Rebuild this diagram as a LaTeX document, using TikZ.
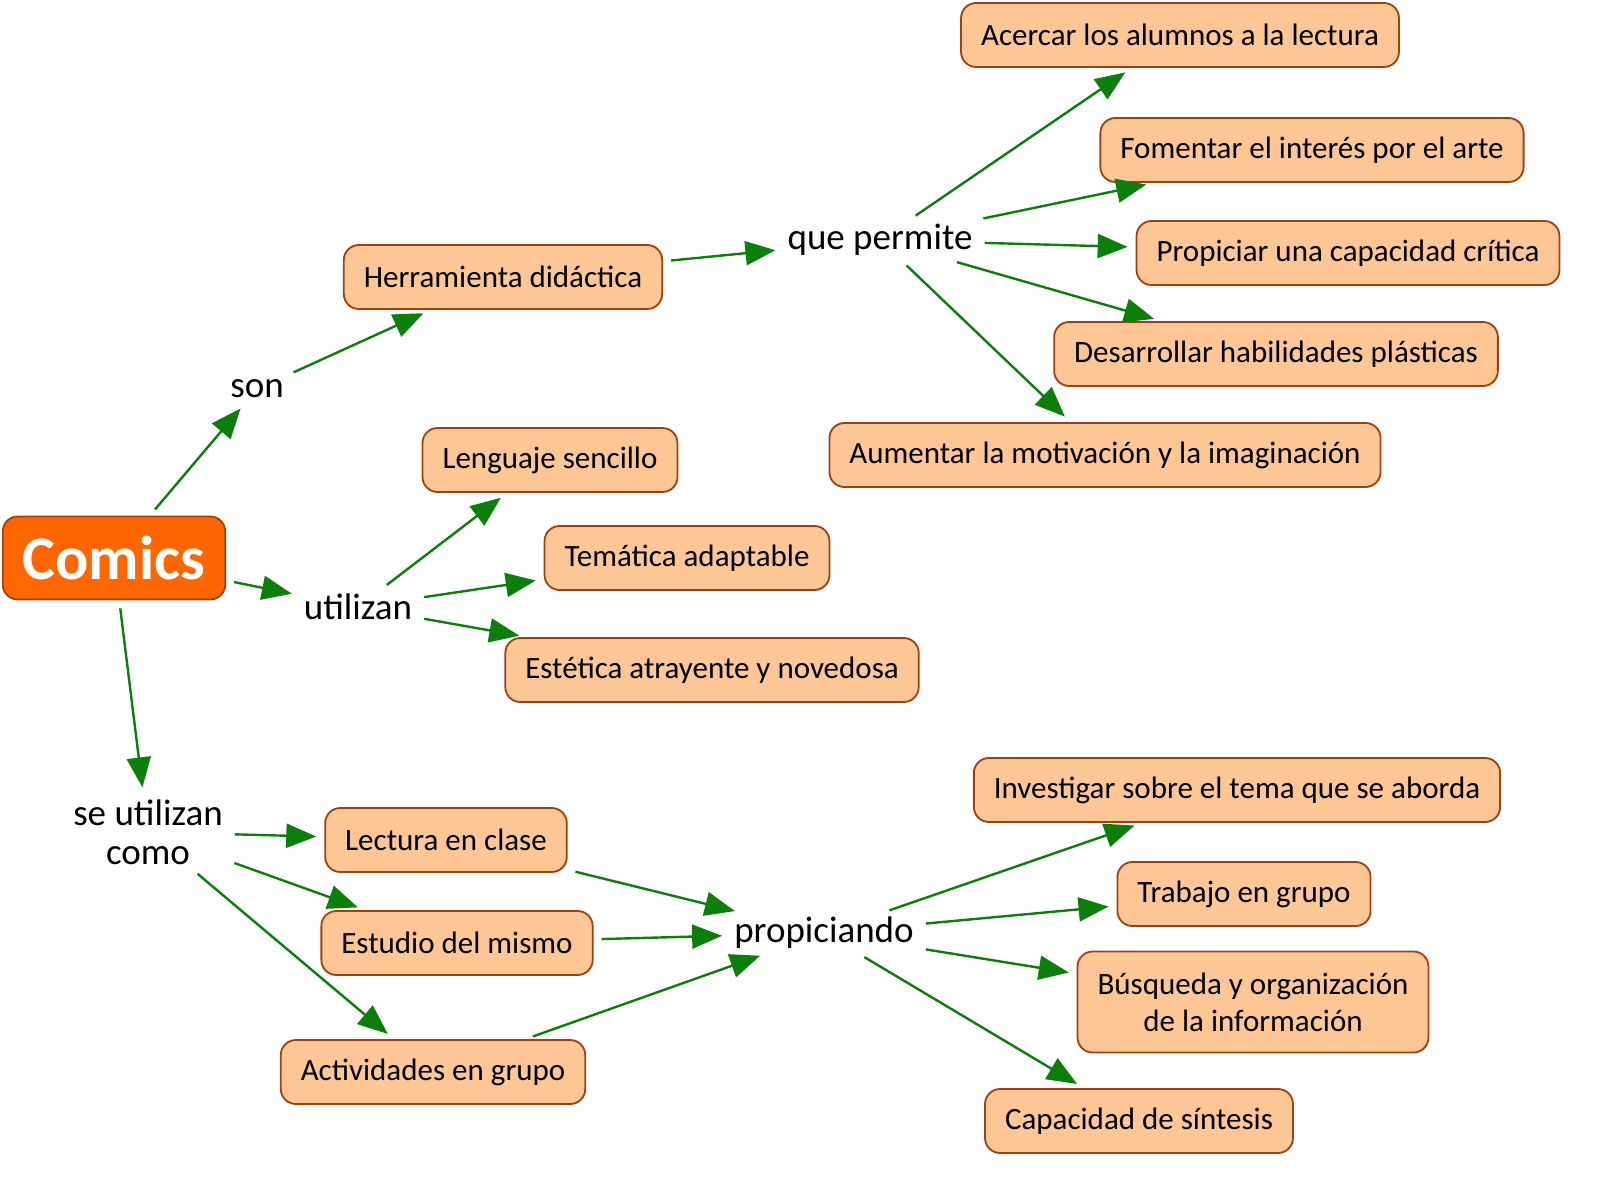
\documentclass[tikz,border=0pt]{standalone}
\usepackage{fontspec}
\setmainfont{Carlito}
\usetikzlibrary{arrows.meta}
\definecolor{peach}{HTML}{FCC794}
\definecolor{boxline}{HTML}{A0400F}
\definecolor{orangebox}{HTML}{FF6600}
\definecolor{linkgreen}{HTML}{0A800A}
\begin{document}
\begin{tikzpicture}[x=1pt,y=-1pt,
    concept/.style={draw=boxline,line width=1.8pt,fill=peach,rounded corners=15pt,
        inner xsep=20pt,inner ysep=0pt,minimum height=64pt,align=center,
        font=\fontsize{31}{37}\selectfont},
    linkword/.style={inner sep=4pt,align=center,font=\fontsize{37}{39}\selectfont},
    link/.style={draw=linkgreen,line width=2.4pt,shorten <=8pt,shorten >=8pt,
        -{Triangle[length=30pt,width=24pt]}}]
    \useasboundingbox (0,0) rectangle (1600,1185);
    % main concept
    \node[concept,fill=orangebox,text=white,minimum height=83pt,
        font=\fontsize{62}{70}\selectfont\bfseries] (comics) at (114,558) {Comics};
    % linking words
    \node[linkword] (son) at (257,389) {son};
    \node[linkword] (permite) at (880,240) {que permite};
    \node[linkword] (utilizan) at (358,607) {utilizan};
    \node[linkword] (como) at (148,832) {se utilizan\\como};
    \node[linkword] (propiciando) at (824,933) {propiciando};
    % concepts
    \node[concept] (herramienta) at (503,277) {Herramienta didáctica};
    \node[concept] (acercar) at (1180,35) {Acercar los alumnos a la lectura};
    \node[concept] (fomentar) at (1312,150) {Fomentar el interés por el arte};
    \node[concept] (critica) at (1348,253) {Propiciar una capacidad crítica};
    \node[concept] (plasticas) at (1276,354) {Desarrollar habilidades plásticas};
    \node[concept] (motivacion) at (1105,455) {Aumentar la motivación y la imaginación};
    \node[concept] (lenguaje) at (550,460) {Lenguaje sencillo};
    \node[concept] (tematica) at (687,558) {Temática adaptable};
    \node[concept] (estetica) at (712,670) {Estética atrayente y novedosa};
    \node[concept] (investigar) at (1237,790) {Investigar sobre el tema que se aborda};
    \node[concept] (lectura) at (446,840) {Lectura en clase};
    \node[concept] (estudio) at (457,943) {Estudio del mismo};
    \node[concept] (trabajo) at (1244,894) {Trabajo en grupo};
    \node[concept,minimum height=101pt] (busqueda) at (1253,1002) {Búsqueda y organización\\de la información};
    \node[concept] (actividades) at (433,1072) {Actividades en grupo};
    \node[concept] (sintesis) at (1139,1121) {Capacidad de síntesis};
    % connectors
    \draw[link] (comics) -- (son);
    \draw[link] (son) -- (herramienta);
    \draw[link] (herramienta) -- (permite);
    \foreach \t in {acercar,fomentar,critica,plasticas,motivacion}
        \draw[link] (permite) -- (\t);
    \draw[link] (comics) -- (utilizan);
    \foreach \t in {lenguaje,tematica,estetica}
        \draw[link] (utilizan) -- (\t);
    \draw[link] (comics) -- (como);
    \foreach \t in {lectura,estudio,actividades}
        \draw[link] (como) -- (\t);
    \foreach \s in {lectura,estudio,actividades}
        \draw[link] (\s) -- (propiciando);
    \foreach \t in {investigar,trabajo,busqueda,sintesis}
        \draw[link] (propiciando) -- (\t);
\end{tikzpicture}
\end{document}
